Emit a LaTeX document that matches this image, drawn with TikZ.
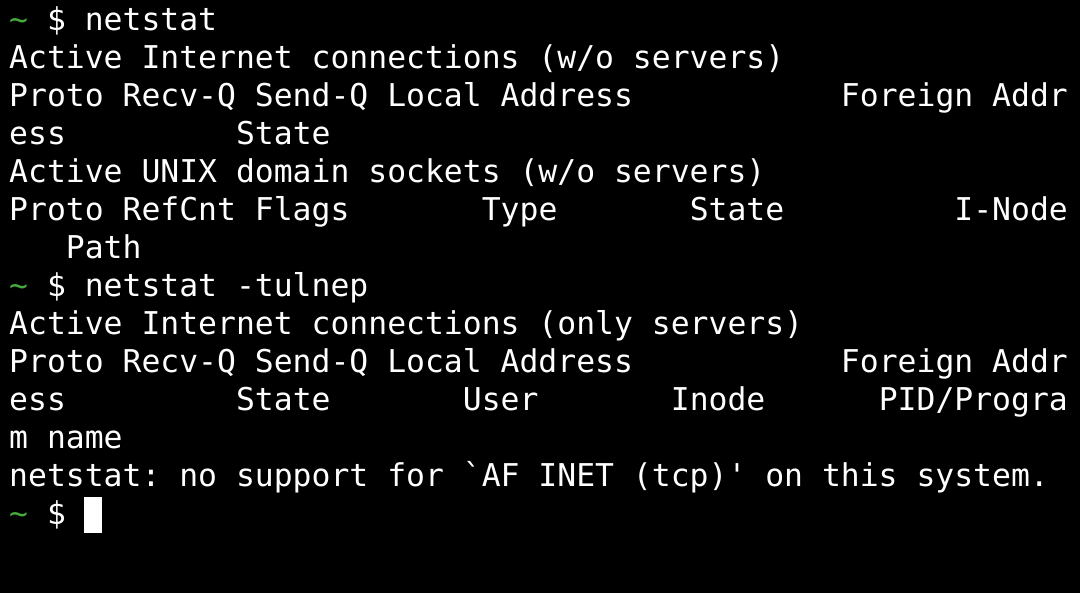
\documentclass[tikz,border=0pt]{standalone}
\usepackage{fontspec}
\newfontfamily\term{DejaVu Sans Mono}
\definecolor{tgreen}{RGB}{70,170,60}
\newcommand\x{\phantom{0}}
\frenchspacing
\begin{document}
\begin{tikzpicture}[x=1pt,y=-1pt,
  ln/.style={anchor=base west,inner sep=0pt,text=white,font=\term\frenchspacing\fontsize{31.4}{38}\selectfont}]
\fill[black] (0,0) rectangle (1080,593);
\useasboundingbox (0,0) rectangle (1080,593);
\node[ln] (l1) at (9,31) {\textcolor{tgreen}{\char`\~}\x\$\x netstat};
\node[ln] (l2) at (9,69) {Active Internet connections (w/o servers)};
\node[ln] (l3) at (9,107) {Proto Recv-Q Send-Q Local Address\x\x\x\x\x\x\x\x\x\x\x Foreign Addr};
\node[ln] (l4) at (9,145) {ess\x\x\x\x\x\x\x\x\x State};
\node[ln] (l5) at (9,183) {Active UNIX domain sockets (w/o servers)};
\node[ln] (l6) at (9,221) {Proto RefCnt Flags\x\x\x\x\x\x\x Type\x\x\x\x\x\x\x State\x\x\x\x\x\x\x\x\x I-Node};
\node[ln] (l7) at (9,259) {\x\x\x Path};
\node[ln] (l8) at (9,297) {\textcolor{tgreen}{\char`\~}\x\$\x netstat -tulnep};
\node[ln] (l9) at (9,335) {Active Internet connections (only servers)};
\node[ln] (l10) at (9,373) {Proto Recv-Q Send-Q Local Address\x\x\x\x\x\x\x\x\x\x\x Foreign Addr};
\node[ln] (l11) at (9,411) {ess\x\x\x\x\x\x\x\x\x State\x\x\x\x\x\x\x User\x\x\x\x\x\x\x Inode\x\x\x\x\x\x PID/Progra};
\node[ln] (l12) at (9,449) {m name};
\node[ln] (l13) at (9,487) {netstat: no support for `AF INET (tcp)' on this system.};
\node[ln] (l14) at (9,525) {\textcolor{tgreen}{\char`\~}\x\$};
\fill[white] (84,497) rectangle (102,533);
\end{tikzpicture}
\end{document}
